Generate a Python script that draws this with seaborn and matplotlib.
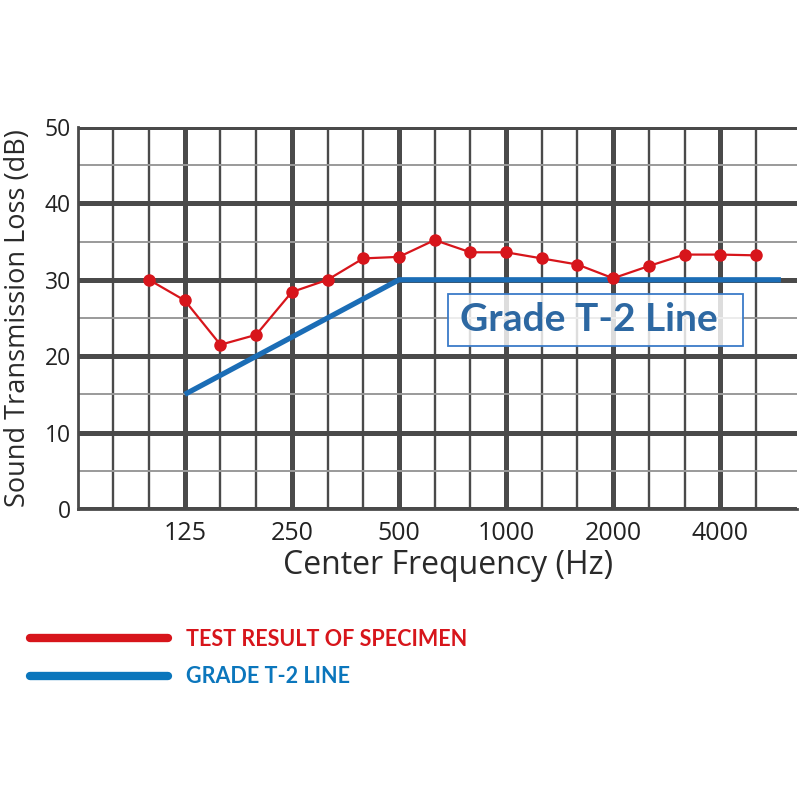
import matplotlib
matplotlib.use("Agg")
import matplotlib.pyplot as plt
import matplotlib.font_manager as fm
from matplotlib.lines import Line2D
from matplotlib.patches import Rectangle
import numpy as np
import pandas as pd
import seaborn as sns

# 1/3 octave bands, 100 Hz .. 5000 Hz
bands = ["100", "125", "160", "200", "250", "315", "400", "500", "630",
         "800", "1000", "1250", "1600", "2000", "2500", "3150", "4000", "5000"]
# measured transmission loss (dB)
test_db = [30.0, 27.3, 21.5, 22.8, 28.4, 30.0, 32.8, 33.0, 35.2,
           33.6, 33.6, 32.8, 32.0, 30.2, 31.8, 33.3, 33.3, 33.2]
# grade T-2 reference line, breakpoints (band position, dB)
grade_pos = [1, 7, 17.7]
grade_db = [15, 30, 30]
# labelled bands on the x axis
label_bands = ["125", "250", "500", "1000", "2000", "4000"]

red = "#d7151b"
blue = "#1b6db6"
grid_c = "#4a4a4a"

sns.set_theme(style="white")
names = {f.name for f in fm.fontManager.ttflist}
narrow = "Liberation Sans Narrow" if "Liberation Sans Narrow" in names else "Lato"
plt.rcParams["font.family"] = ["Open Sans", "DejaVu Sans"]

pos = np.arange(len(bands))
df_test = pd.DataFrame({"pos": pos, "db": test_db})
df_grade = pd.DataFrame({"pos": grade_pos, "db": grade_db})

fig = plt.figure(figsize=(8, 8), dpi=100)
ax = fig.add_axes([78/800, 1-509/800, 719/800, 382/800])

sns.lineplot(data=df_grade, x="pos", y="db", color=blue, lw=3.8,
             solid_capstyle="butt", ax=ax, zorder=3)
sns.lineplot(data=df_test, x="pos", y="db", color=red, lw=1.6,
             marker="o", markersize=9, markeredgewidth=0,
             ax=ax, zorder=4)

ax.set_xlim(-1.99, 18.15)
ax.set_ylim(0, 50)

major_x = [bands.index(b) for b in label_bands]
minor_x = [i for i in range(-1, len(bands)) if i not in major_x]
ax.set_xticks(major_x)
ax.set_xticklabels(label_bands)
ax.set_xticks(minor_x, minor=True)
ax.set_yticks(range(0, 51, 10))
ax.set_yticks(range(5, 50, 10), minor=True)

ax.set_axisbelow(True)
ax.xaxis.grid(True, which="major", color=grid_c, lw=3.6)
ax.xaxis.grid(True, which="minor", color=grid_c, lw=1.7)
ax.yaxis.grid(True, which="major", color=grid_c, lw=3.6)
ax.yaxis.grid(True, which="minor", color="#9a9a9a", lw=1.4)

for s in ["top", "right"]:
    ax.spines[s].set_visible(False)
ax.spines["left"].set_color(grid_c)
ax.spines["left"].set_linewidth(2)
ax.spines["bottom"].set_color(grid_c)
ax.spines["bottom"].set_linewidth(2)

ax.tick_params(axis="both", which="both", length=0)
ax.tick_params(axis="x", labelsize=18, pad=9, colors="#222222")
ax.tick_params(axis="y", labelsize=16.5, pad=5, colors="#222222")

ax.set_xlabel("Center Frequency (Hz)", fontsize=23, color="#2a2a2a", labelpad=2, x=0.515)
ax.set_ylabel("Sound Transmission Loss (dB)", fontsize=19.5, color="#2a2a2a", labelpad=9)

# "Grade T-2 Line" box
ax.add_patch(Rectangle((0.515, 0.427), 0.41, 0.136, transform=ax.transAxes,
                       facecolor="white", alpha=0.82, edgecolor="none", zorder=5))
ax.add_patch(Rectangle((0.515, 0.427), 0.41, 0.136, transform=ax.transAxes,
                       facecolor="none", edgecolor="#3a7bc8", lw=1.3, zorder=6))
ax.text(0.71, 0.495, "Grade T-2 Line", transform=ax.transAxes, ha="center",
        va="center", fontsize=28, fontweight="bold", color="#2d68a2",
        family=[narrow, "DejaVu Sans"], zorder=7)

# legend under the chart
handles = [Line2D([], [], color=red, lw=6, solid_capstyle="round"),
           Line2D([], [], color="#0b76bc", lw=6, solid_capstyle="round")]
leg = fig.legend(handles, ["TEST RESULT OF SPECIMEN", "GRADE T-2 LINE"],
                 loc="upper left", bbox_to_anchor=(30/800, 1-629/800),
                 frameon=False, handlelength=6.4, handletextpad=0.85,
                 labelspacing=0.76, borderpad=0, borderaxespad=0,
                 prop={"family": [narrow, "DejaVu Sans"], "weight": "bold", "size": 15.5})
for t, c in zip(leg.get_texts(), [red, "#0b76bc"]):
    t.set_color(c)

fig.savefig("out.png", dpi=100, facecolor="white")
